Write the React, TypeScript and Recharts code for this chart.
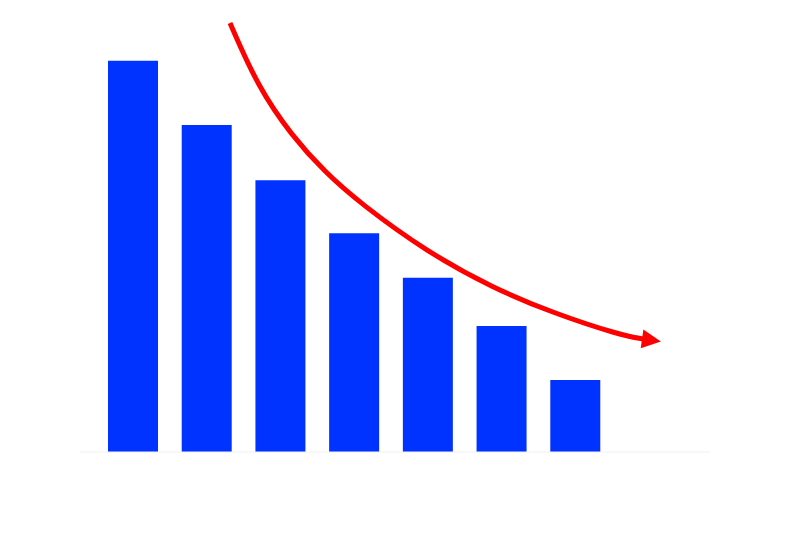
import { Bar, ComposedChart, Line, XAxis, YAxis } from 'recharts'

// bar heights (0–100 scale)
const categories = ['1', '2', '3', '4', '5', '6', '7']
const values = [88.5, 74, 61.5, 49.5, 39.4, 28.5, 16.3]

// red trend arrow, same 0–100 scale on both axes
const arrowX = [23.81, 28.25, 33.65, 38.89, 44.44, 55.08, 65.56, 75.08, 85.71, 89.37]
const arrowY = [97.06, 82.58, 71.5, 63.3, 56.3, 45.25, 37.1, 31.45, 26.47, 25.57]

const barData = categories.map((name, i) => ({ name, value: values[i] }))
const arrowData = arrowX.map((x, i) => ({ x, y: arrowY[i] }))

const BLUE = '#0033ff'
const RED = '#ff0000'

// arrowhead drawn on the last point of the trend line
function ArrowDot(props: any) {
  const { cx, cy, index } = props
  if (index !== arrowData.length - 1 || cx == null) return <g key={index} />
  return (
    <polygon
      key={index}
      points="18,0 -1,-9.5 -1,9.5"
      fill={RED}
      transform={`translate(${cx},${cy}) rotate(8)`}
    />
  )
}

export default function App() {
  return (
    <>
      <style>{'body{margin:0;background:#fff}'}</style>
      <ComposedChart
        width={800}
        height={555}
        data={barData}
        margin={{ top: 10, right: 90, bottom: 102, left: 80 }}
      >
        <XAxis
          dataKey="name"
          height={1}
          tick={false}
          tickLine={false}
          axisLine={{ stroke: '#f1f1f1' }}
          padding={{ left: 16, right: 98 }}
        />
        <XAxis xAxisId="arrow" dataKey="x" type="number" domain={[0, 100]} hide />
        <YAxis domain={[0, 100]} hide />
        <Bar dataKey="value" fill={BLUE} barSize={50} isAnimationActive={false} />
        <Line
          data={arrowData}
          xAxisId="arrow"
          dataKey="y"
          type="basis"
          stroke={RED}
          strokeWidth={5}
          dot={ArrowDot}
          activeDot={false}
          isAnimationActive={false}
        />
      </ComposedChart>
    </>
  )
}
